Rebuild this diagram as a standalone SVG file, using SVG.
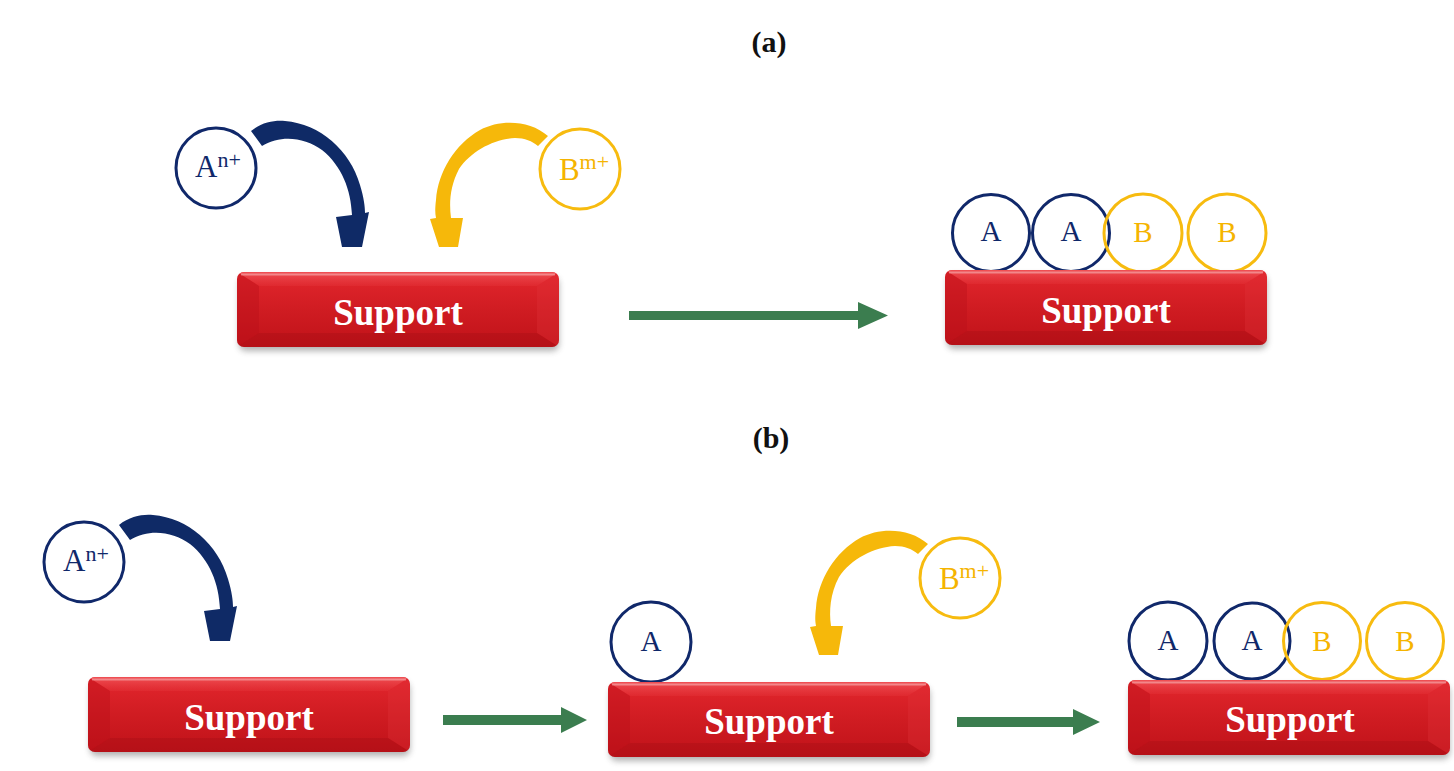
<svg xmlns="http://www.w3.org/2000/svg" xmlns:xlink="http://www.w3.org/1999/xlink" width="1454" height="771" viewBox="0 0 1454 771">
<style>
.title{font-family:"Liberation Serif","Times New Roman",serif;font-weight:bold;font-size:30px;fill:#111;text-anchor:middle}
.sup{font-family:"Liberation Serif","Times New Roman",serif;font-weight:bold;font-size:37px;fill:#ffffff;text-anchor:middle}
.ionA{fill:none;stroke:#10286a;stroke-width:3}
.ionB{fill:none;stroke:#f7bb0f;stroke-width:3}
.lblA{font-family:"Liberation Serif","Times New Roman",serif;font-size:29px;fill:#10286a;text-anchor:middle}
.lblB{font-family:"Liberation Serif","Times New Roman",serif;font-size:29px;fill:#f5b400;text-anchor:middle}
.blueArr{fill:#0f2a66}
.yelArr{fill:#f6b80a}
.green{fill:#3b7d4f}
</style>
<defs>
<linearGradient id="redGrad" x1="0" y1="0" x2="0" y2="1">
<stop offset="0" stop-color="#e3262d"/>
<stop offset="0.5" stop-color="#d01c22"/>
<stop offset="1" stop-color="#c01219"/>
</linearGradient>
<linearGradient id="topBevel" x1="0" y1="0" x2="0" y2="1">
<stop offset="0" stop-color="#f25a5e" stop-opacity="0.8"/>
<stop offset="1" stop-color="#e33036" stop-opacity="0.5"/>
</linearGradient>
<filter id="shadow" x="-10%" y="-20%" width="120%" height="160%">
<feGaussianBlur stdDeviation="3"/>
</filter>
<clipPath id="boxClip"><rect x="0" y="0" width="322" height="75" rx="7"/></clipPath>
<g id="supportBox">
<rect x="2" y="5" width="320" height="74" rx="7" fill="#555" opacity="0.45" filter="url(#shadow)"/>
<rect x="0" y="0" width="322" height="75" rx="7" fill="url(#redGrad)"/>
<g clip-path="url(#boxClip)">
<polygon points="0,0 322,0 300,14 22,14" fill="url(#topBevel)"/>
<polygon points="0,0 22,14 22,61 0,75" fill="#b8101a" opacity="0.4"/>
<polygon points="322,0 300,14 300,61 322,75" fill="#e0343a" opacity="0.3"/>
<polygon points="0,75 22,61 300,61 322,75" fill="#a00c14" opacity="0.3"/>
<rect x="4" y="1.5" width="314" height="2" fill="#fff" opacity="0.35"/>
</g>
</g>
<path id="blueCurve" d="M251,131 C262,122 275,120 285,121 C320,124 350,150 360,185 C364,198 365,207 365,213 L369,212 L362,247 L342,247 L336,217 L352,215 C351,190 342,166 322,150 C305,138 282,134 262,146 Z"/>
<path id="yelCurve" d="M548,136 C530,120 500,119 480,130 C455,144 438,172 436,200 C435,208 435,213 436,218 L430,219 L439,247 L458,247 L463,218 L451,218 C449,203 450,186 459,169 C471,151 494,139 515,138 C525,138 532,141 538,146 Z"/>
</defs>
<rect x="0" y="0" width="1454" height="771" fill="#ffffff"/>

<text class="title" x="769" y="52">(a)</text>
<text class="title" x="771" y="448">(b)</text>

<!-- Panel (a) -->
<g id="a-ion-A">
<circle class="ionA" cx="216" cy="168" r="40"/>
<text class="lblA" x="218" y="177" style="font-size:31px">A<tspan dy="-10" style="font-size:22px">n+</tspan></text>
</g>
<g id="a-ion-B">
<circle class="ionB" cx="580" cy="169" r="40"/>
<text class="lblB" x="584" y="180" style="font-size:31px">B<tspan dy="-11" style="font-size:22px">m+</tspan></text>
</g>
<g id="a-support-left">
<use xlink:href="#supportBox" href="#supportBox" transform="translate(237,272)"/>
<text class="sup" x="398" y="325">Support</text>
</g>
<g id="a-product">
<circle class="ionA" cx="991" cy="233" r="38.5"/>
<text class="lblA" x="991" y="241">A</text>
<circle class="ionA" cx="1071" cy="233" r="38.5"/>
<text class="lblA" x="1071" y="241">A</text>
<circle class="ionB" cx="1143" cy="233" r="39"/>
<text class="lblB" x="1143" y="242">B</text>
<circle class="ionB" cx="1227" cy="233" r="39"/>
<text class="lblB" x="1227" y="242">B</text>
<use xlink:href="#supportBox" href="#supportBox" transform="translate(945,270)"/>
<text class="sup" x="1106" y="323">Support</text>
</g>

<!-- Panel (b) -->
<g id="b-ion-A">
<circle class="ionA" cx="84" cy="562" r="40"/>
<text class="lblA" x="86" y="571" style="font-size:31px">A<tspan dy="-10" style="font-size:22px">n+</tspan></text>
</g>
<g id="b-support-left">
<use xlink:href="#supportBox" href="#supportBox" transform="translate(88,677)"/>
<text class="sup" x="249" y="730">Support</text>
</g>
<g id="b-intermediate">
<circle class="ionA" cx="651" cy="642" r="40"/>
<text class="lblA" x="651" y="651">A</text>
<use xlink:href="#supportBox" href="#supportBox" transform="translate(608,682)"/>
<text class="sup" x="769" y="734">Support</text>
</g>
<g id="b-ion-B">
<circle class="ionB" cx="960" cy="578" r="40"/>
<text class="lblB" x="964" y="589" style="font-size:31px">B<tspan dy="-11" style="font-size:22px">m+</tspan></text>
</g>
<g id="b-product">
<circle class="ionA" cx="1168" cy="641" r="39"/>
<text class="lblA" x="1168" y="650">A</text>
<circle class="ionA" cx="1252" cy="641" r="38"/>
<text class="lblA" x="1252" y="650">A</text>
<circle class="ionB" cx="1322" cy="641" r="38.5"/>
<text class="lblB" x="1322" y="651">B</text>
<circle class="ionB" cx="1405" cy="641" r="38.5"/>
<text class="lblB" x="1405" y="651">B</text>
<use xlink:href="#supportBox" href="#supportBox" transform="translate(1128,680)"/>
<text class="sup" x="1290" y="732">Support</text>
</g>

<g id="connectors">
<use xlink:href="#blueCurve" href="#blueCurve" class="blueArr"/>
<use xlink:href="#yelCurve" href="#yelCurve" class="yelArr"/>
<use xlink:href="#blueCurve" href="#blueCurve" class="blueArr" transform="translate(-132,394)"/>
<use xlink:href="#yelCurve" href="#yelCurve" class="yelArr" transform="translate(380,408)"/>
<polygon class="green" points="629,311 858,311 858,302 888,315.5 858,329 858,320 629,320"/>
<polygon class="green" points="443,715 561,715 561,707 587,720 561,733 561,725 443,725"/>
<polygon class="green" points="957,717 1073,717 1073,709 1100,722 1073,735 1073,727 957,727"/>
</g>
</svg>
